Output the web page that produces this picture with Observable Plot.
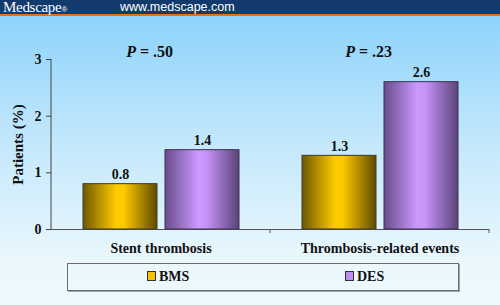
<!DOCTYPE html>
<html>
<head>
<meta charset="utf-8">
<script src="https://cdn.jsdelivr.net/npm/d3@7"></script>
<script src="https://cdn.jsdelivr.net/npm/@observablehq/plot@0.6"></script>
<style>
  html, body { margin: 0; padding: 0; }
  #page {
    position: relative; width: 500px; height: 305px; overflow: hidden;
    background: linear-gradient(to bottom, #8ed3fb 0px, #8ed3fb 17px, #c6e9fc 150px, #eaf7fd 260px, #eef9fe 305px);
    font-family: 'Liberation Serif', serif;
  }
  #header {
    height: 14px; background: #133a6d; border-bottom: 2px solid #e0731f;
    position: relative; color: #fff;
  }
  #header .logo { position: absolute; left: 3px; top: 0px; font-family: 'Liberation Serif', serif; font-size: 15px; line-height: 14px; letter-spacing: -0.3px; }
  #header .logo sup { font-size: 8px; vertical-align: 0px; font-family: 'Liberation Sans', sans-serif; }
  #header .url { position: absolute; left: 120px; top: 0px; font-family: 'Liberation Sans', sans-serif; font-size: 12.5px; line-height: 14px; }
  #chart { position: absolute; left: 0; top: 16px; }
  #legend {
    position: absolute; left: 67px; top: 263px; width: 390px; height: 26px;
    border: 1px solid #6d6d6d; box-shadow: 1px 1px 0 #9aa;
  }
  .item { position: absolute; top: 4px; font-family: 'Liberation Serif', serif; font-weight: bold; font-size: 14px; color: #111; line-height: 18px; }
  .sw { display: inline-block; width: 7px; height: 8px; border: 1px solid #333; margin-right: 3px; vertical-align: 0px; }
</style>
</head>
<body>
<div id="page">
  <div id="header"><span class="logo">Medscape<sup>®</sup></span><span class="url">www.medscape.com</span></div>
  <div id="chart"></div>
  <div id="legend"></div>
</div>
<script>
const categories = ["Stent thrombosis", "Thrombosis-related events"];
const series = ["BMS", "DES"];
const bmsValues = [0.8, 1.3];
const desValues = [1.4, 2.6];
const pLabels = [".50", ".23"];
const yTicks = [0, 1, 2, 3];
const seriesColors = {BMS: "#f5c400", DES: "#c08ef0"};

const FONT = "Liberation Serif";

const rows = [];
categories.forEach((c, i) => {
  rows.push({category: c, series: "BMS", value: bmsValues[i]});
  rows.push({category: c, series: "DES", value: desValues[i]});
});
const pRows = categories.map((c, i) => ({category: c, p: "= " + pLabels[i]}));

const plot = Plot.plot({
  width: 500,
  height: 245,
  marginLeft: 51,
  marginRight: 11,
  marginTop: 43,
  marginBottom: 32,
  style: {background: "transparent", fontFamily: FONT, fontWeight: "bold", fontSize: "13px", color: "#111"},
  fx: {domain: categories, padding: 0},
  x: {domain: series, paddingInner: 0.1, paddingOuter: 0.37, axis: null},
  y: {domain: [0, 3]},
  marks: [
    Plot.ruleY([0], {stroke: "#555", strokeWidth: 1}),
    Plot.barY(rows.filter(d => d.series === "BMS"), {fx: "category", x: "series", y: "value", fill: "url(#gBMS)", stroke: "#3a3a2a", strokeWidth: 1}),
    Plot.barY(rows.filter(d => d.series === "DES"), {fx: "category", x: "series", y: "value", fill: "url(#gDES)", stroke: "#3a3350", strokeWidth: 1}),
    Plot.text(rows, {fx: "category", x: "series", y: "value", text: d => d3.format(".1f")(d.value), lineAnchor: "bottom", dy: -5, fontFamily: FONT, fontSize: 14, fontWeight: "bold", fill: "#111"}),
    Plot.text(pRows, {fx: "category", text: () => "P", frameAnchor: "top", dy: -14, dx: -25, textAnchor: "end", fontFamily: FONT, fontStyle: "italic", fontSize: 16, fontWeight: "bold", fill: "#111"}),
    Plot.text(pRows, {fx: "category", text: "p", frameAnchor: "top", dy: -14, dx: -21, textAnchor: "start", fontFamily: FONT, fontSize: 16, fontWeight: "bold", fill: "#111"}),
    Plot.axisY({ticks: yTicks, tickFormat: d3.format("d"), tickSize: 5, tickPadding: 5, fontFamily: FONT, fontSize: 14, fontWeight: "bold", stroke: "#444", label: "Patients (%)", labelAnchor: "center", labelArrow: "none", labelOffset: 39}),
    Plot.axisFx({anchor: "bottom", tickSize: 0, tickPadding: 14, fontFamily: FONT, fontSize: 14, fontWeight: "bold", label: null})
  ]
});

// gradients for bar fills
const svg = d3.select(plot);
const defs = svg.insert("defs", ":first-child");
const grad = (id, stops) => {
  const g = defs.append("linearGradient").attr("id", id).attr("x1", "0").attr("x2", "1").attr("y1", "0").attr("y2", "0");
  stops.forEach(([o, c]) => g.append("stop").attr("offset", o).attr("stop-color", c));
};
grad("gBMS", [[0, "#6f5800"], [0.45, "#ffcc00"], [0.55, "#ffc800"], [1, "#5e4b00"]]);
grad("gDES", [[0, "#684c8c"], [0.45, "#cc99ff"], [0.55, "#c894fa"], [1, "#5b4279"]]);

svg.selectAll("text").style("font-family", FONT);
svg.selectAll("g").filter(function() { return this.getAttribute("aria-label") === "y-axis label"; })
  .selectAll("text").style("font-size", "15px");

// y-axis line and category separator ticks
const ys = plot.scale("y");
const fxs = plot.scale("fx");
const y0 = ys.apply(0), y3 = ys.apply(3);
const x0 = 51;
svg.append("line").attr("x1", x0).attr("x2", x0).attr("y1", y3).attr("y2", y0).attr("stroke", "#444");
categories.forEach(c => {
  const xe = fxs.apply(c) + fxs.bandwidth;
  svg.append("line").attr("x1", xe).attr("x2", xe).attr("y1", y0).attr("y2", y0 + 4).attr("stroke", "#555");
});

document.getElementById("chart").appendChild(plot);

// legend
const legend = document.getElementById("legend");
const legendLeft = {BMS: 79, DES: 277};
series.forEach(s => {
  const item = document.createElement("div");
  item.className = "item";
  item.style.left = legendLeft[s] + "px";
  const sw = document.createElement("span");
  sw.className = "sw";
  sw.style.background = seriesColors[s];
  item.appendChild(sw);
  item.appendChild(document.createTextNode(s));
  legend.appendChild(item);
});
</script>
</body>
</html>
